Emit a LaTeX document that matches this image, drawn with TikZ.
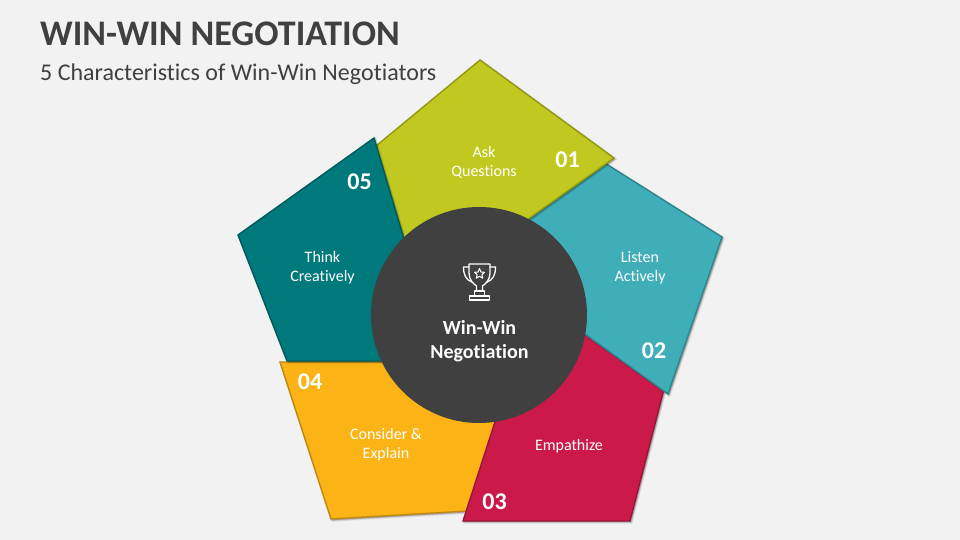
\documentclass[tikz,border=0pt]{standalone}
\usepackage{fontspec}
\setmainfont{Carlito}[RawFeature={-liga}]
\definecolor{bg}{HTML}{F2F2F2}
\definecolor{ink}{HTML}{404040}
\definecolor{olivef}{HTML}{C1C920}
\definecolor{olived}{HTML}{929810}
\definecolor{bluef}{HTML}{3FAEB8}
\definecolor{blued}{HTML}{2F838B}
\definecolor{crimf}{HTML}{CB1A4A}
\definecolor{crimd}{HTML}{9A1438}
\definecolor{yelf}{HTML}{FBB316}
\definecolor{yeld}{HTML}{BE8811}
\definecolor{tealf}{HTML}{00797C}
\definecolor{teald}{HTML}{005B5D}
\tikzset{
  petal/.style n args={2}{fill=#1,draw=#2,line width=1.4pt,line join=miter,
    preaction={draw=black,fill=black,opacity=.08,line width=3pt,transform canvas={xshift=1.2pt,yshift=-1.2pt}},
    preaction={draw=black,fill=black,opacity=.12,line width=1.5pt,transform canvas={xshift=1.2pt,yshift=-1.2pt}}},
  lab/.style={text=white,align=center,font=\fontsize{16}{19}\selectfont,inner sep=0pt},
  num/.style={text=white,font=\bfseries\fontsize{24}{24}\selectfont,inner sep=0pt},
  icon/.style={draw=white,line width=1.3pt,line join=round,line cap=round}
}
\begin{document}
\begin{tikzpicture}[x=1pt,y=-1pt]
\useasboundingbox (0,0) rectangle (960,540);
\fill[bg] (0,0) rectangle (960,540);
\node[anchor=base west,inner sep=0pt,text=ink,font=\bfseries\fontsize{36}{36}\selectfont] (title) at (40,46) {WIN-WIN NEGOTIATION};
\node[anchor=base west,inner sep=0pt,text=ink,font=\fontsize{24}{24}\selectfont] (sub) at (40,81) {5 Characteristics of Win-Win Negotiators};
% petals, lowest first
\draw[petal={yelf}{yeld}] (280,362) -- (331,519) -- (480,510.3) -- (505,420) -- (440,350) -- (430,362) -- cycle;
\draw[petal={crimf}{crimd}] (630,521) -- (463,521) -- (503,397) -- (560,316) -- (665,385) -- cycle;
\draw[petal={bluef}{blued}] (722,237) -- (668,394) -- (560,316) -- (500,230) -- (600,160) -- cycle;
\draw[petal={olivef}{olived}] (480,60) -- (614,158) -- (500,239) -- (400,300) -- (376,146) -- cycle;
\draw[petal={tealf}{teald}] (374,138) -- (238,235) -- (287,361) -- (430,361) -- (422,300) -- cycle;
% hub
\fill[ink] (479,315) circle (108);
% trophy
\draw[icon] (469,264) -- (490,264) -- (490,272) .. controls (490,281) and (485,284) .. (482.5,286) -- (482.5,291) -- (476.5,291) -- (476.5,286) .. controls (474,284) and (469,281) .. (469,272) -- cycle;
\draw[icon] (469,267) -- (463.5,267) .. controls (463.5,275) and (466,280) .. (472,282);
\draw[icon] (490,267) -- (495.5,267) .. controls (495.5,275) and (493,280) .. (487,282);
\draw[icon] (474.5,291) rectangle (484.5,296);
\draw[icon] (469.5,296) rectangle (489.5,300);
\draw[draw=white,line width=1pt,line join=round] (479.5,268.5) -- (481,272) -- (484.5,272.3) -- (481.9,274.7) -- (482.7,278.2) -- (479.5,276.3) -- (476.3,278.2) -- (477.1,274.7) -- (474.5,272.3) -- (478,272) -- cycle;
\node[text=white,align=center,inner sep=0pt,font=\bfseries\fontsize{20}{24}\selectfont] (hub) at (479.5,341.5) {Win-Win\\Negotiation};
% labels
\node[lab] (l1) at (484,163) {Ask\\Questions};
\node[lab] (l2) at (640,268) {Listen\\Actively};
\node[lab] (l3) at (569,446) {Empathize};
\node[lab] (l4) at (386,445) {Consider \&\\Explain};
\node[lab] (l5) at (322.5,268) {Think\\Creatively};
\node[num] (n1) at (567.5,160) {01};
\node[num] (n2) at (654,351) {02};
\node[num] (n3) at (494.5,502) {03};
\node[num] (n4) at (310,382) {04};
\node[num] (n5) at (359.5,182) {05};
\end{tikzpicture}
\end{document}
